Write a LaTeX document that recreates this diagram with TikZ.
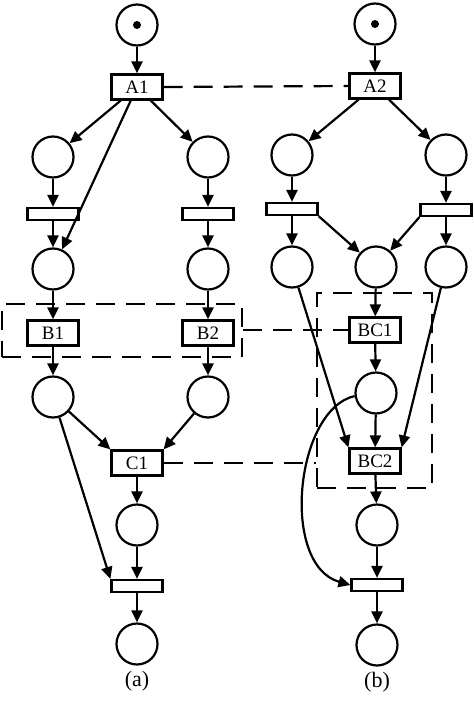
\documentclass[tikz,border=0pt]{standalone}
\usepackage{fontspec}
\setmainfont{Liberation Serif}
\usetikzlibrary{arrows.meta}
\begin{document}
\begin{tikzpicture}[x=1pt,y=-1pt,
 place/.style={circle,draw,line width=2.2pt,minimum size=41pt,inner sep=0pt},
 trans/.style={draw,line width=2.2pt,minimum width=51pt,minimum height=25pt,inner sep=0pt,font=\fontsize{19}{19}\selectfont},
 bar/.style={draw,line width=2.2pt,minimum width=51pt,minimum height=12pt,inner sep=0pt},
 arc/.style={line width=2.2pt,-{Triangle[length=12pt,width=11pt]}},
 dashline/.style={line width=2.2pt,dash pattern=on 19pt off 11pt},
 dashbox/.style={draw,line width=2.2pt,dash pattern=on 19pt off 11pt,inner sep=0pt},
 token/.style={circle,fill,inner sep=0pt,minimum size=8pt},
 caption/.style={font=\fontsize{22}{22}\selectfont}]
\useasboundingbox (0,0) rectangle (474,707);
% ---------- net (a) ----------
\node[place] (pa0) at (137,25) {};
\node[token] (ka) at (pa0) {};
\node[trans] (A1) at (137,87) {A1};
\node[place] (pL1) at (53,157) {};
\node[place] (pR1) at (208,157) {};
\node[bar] (tL1) at (53,214) {};
\node[bar] (tR1) at (208,214) {};
\node[place] (pL2) at (53,269) {};
\node[place] (pR2) at (208,269) {};
\node[trans] (B1) at (53,333) {B1};
\node[trans] (B2) at (208,333) {B2};
\node[place] (pL3) at (53,397) {};
\node[place] (pR3) at (208,397) {};
\node[trans] (C1) at (137,463) {C1};
\node[place] (pC) at (137,525) {};
\node[bar] (tE) at (137,586) {};
\node[place] (pE) at (137,644) {};
\node[caption] (la) at (137,681) {(a)};
\node[dashbox,minimum width=240pt,minimum height=53pt] (Ga) at (122,330.5) {};
% ---------- net (b) ----------
\node[place] (pb0) at (375,24) {};
\node[token] (kb) at (pb0) {};
\node[trans] (A2) at (375,86) {A2};
\node[place] (qL1) at (292,155) {};
\node[place] (qR1) at (446,155) {};
\node[bar] (uL1) at (292,209) {};
\node[bar] (uR1) at (446,210) {};
\node[place] (qL2) at (292,267) {};
\node[place] (qM2) at (376,267) {};
\node[place] (qR2) at (446,267) {};
\node[trans] (BC1) at (375,330) {BC1};
\node[place] (qM3) at (376,393) {};
\node[trans] (BC2) at (375,461) {BC2};
\node[place] (qC) at (377,525) {};
\node[bar] (uE) at (377,585) {};
\node[place] (qE) at (377,645) {};
\node[caption] (lb) at (377,682) {(b)};
\node[dashbox,minimum width=115pt,minimum height=195pt] (Gb) at (374.5,390.5) {};
% ---------- arcs (a) ----------
\draw[arc] (pa0) -- (A1);
\draw[arc] (A1) -- (pL1);
\draw[arc] (A1) -- (pR1);
\draw[arc] (A1) -- (pL2);
\draw[arc] (pL1) -- (tL1);
\draw[arc] (pR1) -- (tR1);
\draw[arc] (tL1) -- (pL2);
\draw[arc] (tR1) -- (pR2);
\draw[arc] (pL2) -- (B1);
\draw[arc] (pR2) -- (B2);
\draw[arc] (B1) -- (pL3);
\draw[arc] (B2) -- (pR3);
\draw[arc] (pL3) -- (C1.north west);
\draw[arc] (pR3) -- (C1.north east);
\draw[arc] (pL3) -- (tE.north west);
\draw[arc] (C1) -- (pC);
\draw[arc] (pC) -- (tE);
\draw[arc] (tE) -- (pE);
% ---------- arcs (b) ----------
\draw[arc] (pb0) -- (A2);
\draw[arc] (A2) -- (qL1);
\draw[arc] (A2) -- (qR1);
\draw[arc] (qL1) -- (uL1);
\draw[arc] (qR1) -- (uR1);
\draw[arc] (uL1) -- (qL2);
\draw[arc] (uR1) -- (qR2);
\draw[arc] (uL1.south east) -- (qM2);
\draw[arc] (uR1.south west) -- (qM2);
\draw[arc] (qM2) -- (BC1);
\draw[arc] (BC1) -- (qM3);
\draw[arc] (qM3) -- (BC2);
\draw[arc] (qL2) -- (BC2.north west);
\draw[arc] (qR2) -- (BC2.north east);
\draw[arc] (BC2) -- (qC);
\draw[arc] (qC) -- (uE);
\draw[arc] (uE) -- (qE);
\draw[arc] (qM3.188) .. controls (295,410) and (280,565) .. (uE.west);
% ---------- dashed links ----------
\draw[dashline] (A1.east) -- (A2.west);
\draw[dashline] (Ga.east |- BC1.west) -- (BC1.west);
\draw[dashline] (C1.east) -- (Gb.west |- C1.east);
\end{tikzpicture}
\end{document}
